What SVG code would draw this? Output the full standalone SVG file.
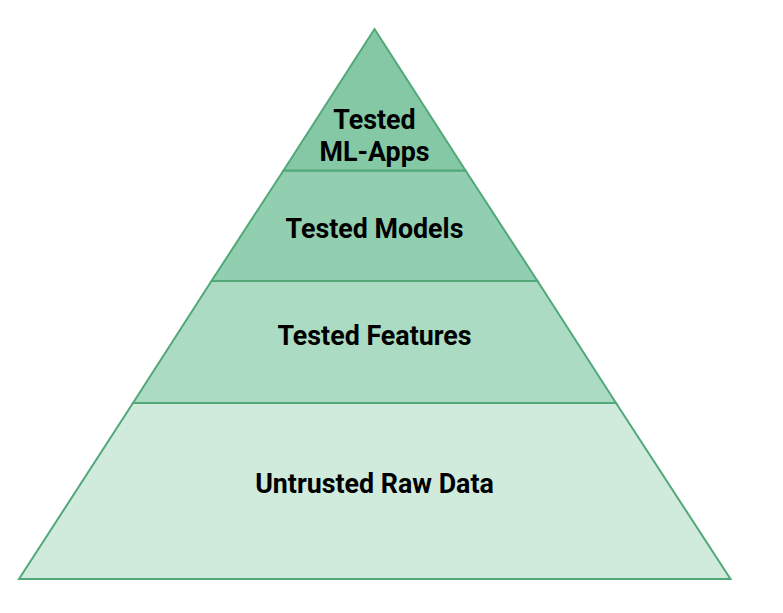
<svg xmlns="http://www.w3.org/2000/svg" width="783" height="613" viewBox="0 0 783 613">
<style>
.layer{stroke:#52a878;stroke-width:2;stroke-linejoin:miter}
.lbl{font-family:Roboto,"Liberation Sans",sans-serif;font-weight:bold;font-size:26.8px;fill:#000;text-anchor:middle}
</style>
<rect width="783" height="613" fill="#ffffff"/>
<g id="layer-raw-data">
<polygon class="layer" fill="#d0eadc" points="133,403 616,403 730.5,579 19,579"/>
<text class="lbl" x="374.5" y="492.5">Untrusted Raw Data</text>
</g>
<g id="layer-features">
<polygon class="layer" fill="#acdbc3" points="211.5,281 537.5,281 616,403 133,403"/>
<text class="lbl" x="374.5" y="344.5">Tested Features</text>
</g>
<g id="layer-models">
<polygon class="layer" fill="#92cfb0" points="283.5,170.5 465.5,170.5 537.5,281 211.5,281"/>
<text class="lbl" x="374.5" y="237.5">Tested Models</text>
</g>
<g id="layer-ml-apps">
<polygon class="layer" fill="#84c8a5" points="374.5,29 465.5,170.5 283.5,170.5"/>
<text class="lbl" x="374.5" y="129">Tested</text>
<text class="lbl" x="374.5" y="160.5">ML-Apps</text>
</g>
</svg>
